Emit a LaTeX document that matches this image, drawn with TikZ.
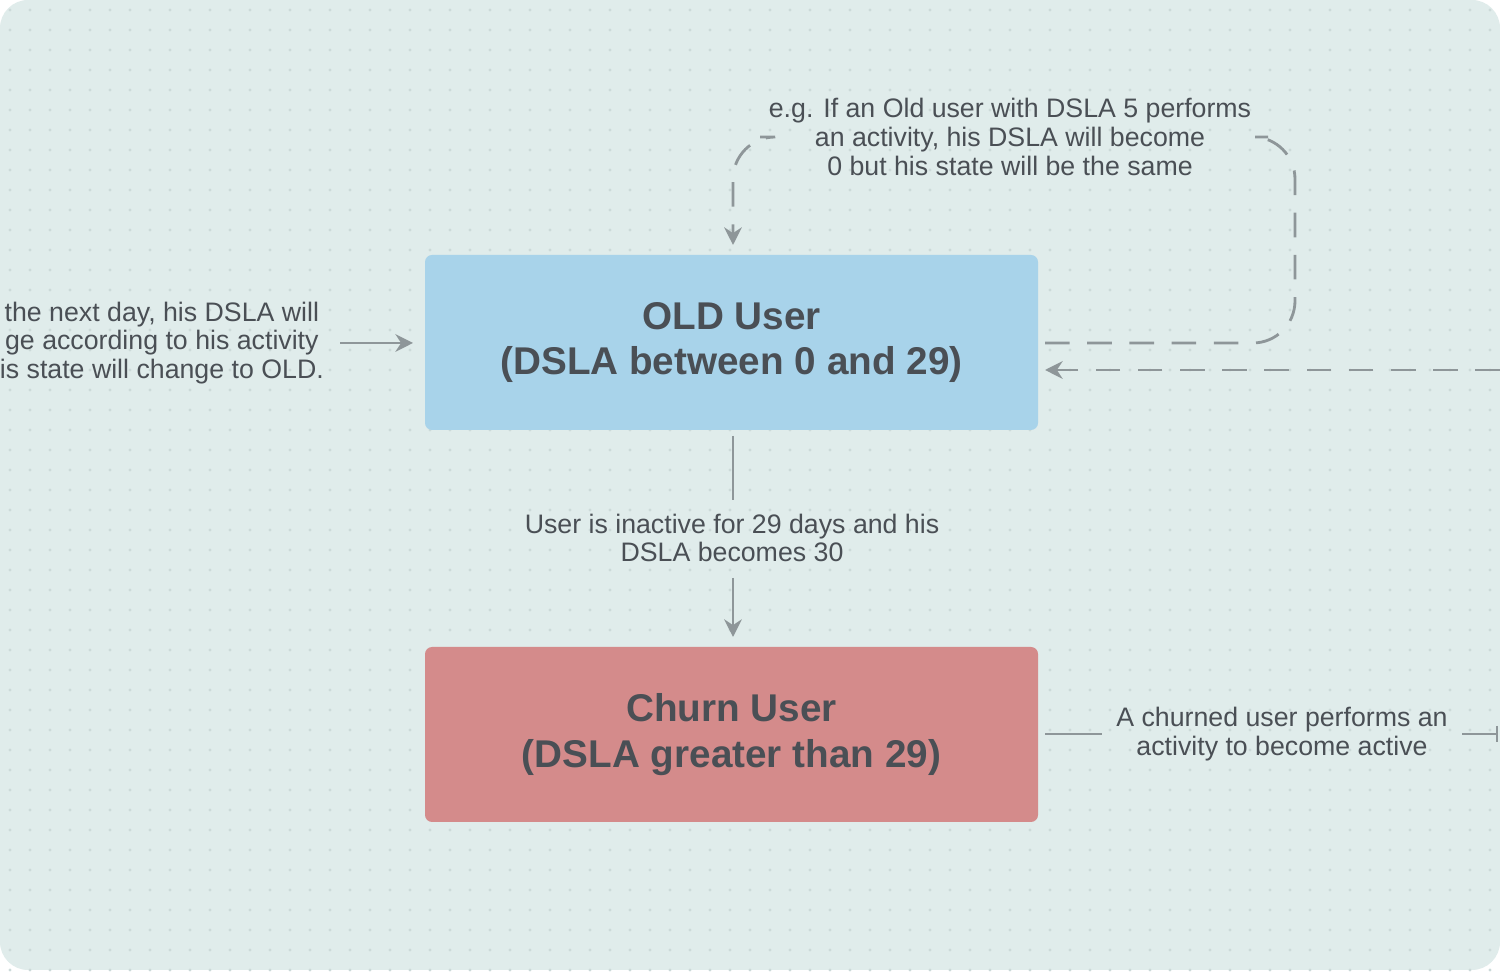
\documentclass[tikz,border=0pt]{standalone}
\usepackage{fontspec}
\setmainfont{Liberation Sans}
\usetikzlibrary{arrows.meta}
\definecolor{bg}{HTML}{E0ECEB}
\definecolor{dotc}{HTML}{CCDAD9}
\definecolor{oldc}{HTML}{A8D3EA}
\definecolor{churnc}{HTML}{D48B8B}
\definecolor{txt}{HTML}{4A4F55}
\definecolor{ln}{HTML}{8E9699}
\begin{document}
\begin{tikzpicture}[x=0.01cm,y=-0.01cm,
  box/.style={draw=none,minimum width=613*0.01cm,minimum height=175*0.01cm,rounded corners=2pt,font=\fontsize{11}{13}\selectfont\bfseries,text=txt,align=center},
  lbl/.style={font=\fontsize{7.6}{8.2}\selectfont,text=txt,align=center,inner sep=1pt},
  con/.style={draw=ln,line width=0.8pt},
  dcon/.style={con,dash pattern=on 7pt off 5pt},
  tip/.style={-{Stealth[length=5pt,width=5pt]}}]
\useasboundingbox (0,0) rectangle (1500,974);
\fill[white] (0,0) rectangle (1500,974);
\fill[bg,rounded corners=8pt] (0,0) rectangle (1500,970);
\foreach \i in {0,...,74}{\foreach \j in {0,...,48}{\fill[dotc] (10+\i*20,10+\j*20) circle (0.45pt);}}
\node[box,fill=oldc] (old) at (731.5,342.5) {OLD User\\(DSLA between 0 and 29)};
\node[box,fill=churnc] (churn) at (731.5,734.5) {Churn User\\(DSLA greater than 29)};
\node[lbl,anchor=east] (lt) at (328,343) {the next day, his DSLA will\\ge according to his activity\\is state will change to OLD.};
\node[lbl] (top) at (1010,137) {e.g. If an Old user with DSLA 5 performs\\an activity, his DSLA will become\\0 but his state will be the same};
\node[lbl] (mid) at (732,538) {User is inactive for 29 days and his\\DSLA becomes 30};
\node[lbl] (rt) at (1282,734) {A churned user performs an\\activity to become active};
\coordinate (lt0) at (340,343);
\coordinate (lt1) at (413,343);
\draw[con,tip] (lt0) -- (lt1);
\draw[dcon,rounded corners=12pt] (1045,343) -- (1295,343) -- (1295,137) -- (1268,137);
\draw[dcon,tip,rounded corners=12pt] (760,137) -- (733,137) -- (733,245);
\draw[dcon,tip] (1500,370) -- (1045,370);
\draw[con] (733,436) -- (733,500);
\draw[con,tip] (733,578) -- (733,637);
\draw[con] (1045,734) -- (1102,734);
\draw[con] (1462,734) -- (1498,734);
\draw[con] (1497,726) -- (1497,742);
\end{tikzpicture}
\end{document}
